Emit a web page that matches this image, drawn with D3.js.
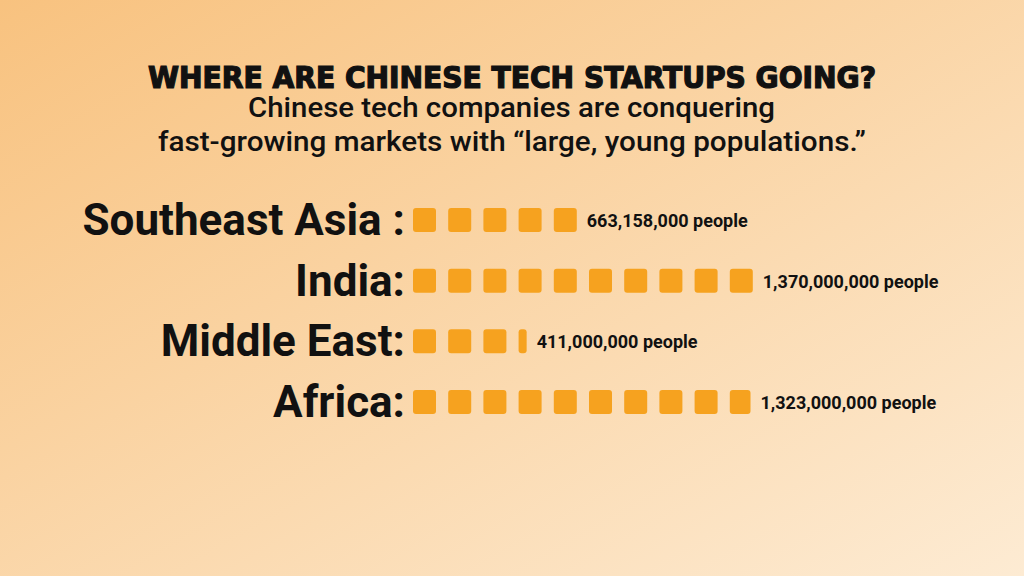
<!DOCTYPE html>
<html><head><meta charset="utf-8">
<script src="https://cdn.jsdelivr.net/npm/d3@7"></script>
<style>body{margin:0}</style>
</head><body>
<script>
var w = 1024, h = 576;
var regions = ["Southeast Asia :", "India:", "Middle East:", "Africa:"];
var people = ["663,158,000", "1,370,000,000", "411,000,000", "1,323,000,000"];
var squares = [5, 10, 3.35, 9.9];   // pictogram units as drawn

var svg = d3.select("body").append("svg").attr("width", w).attr("height", h);
var defs = svg.append("defs");
var g = defs.append("linearGradient").attr("id", "bg")
	.attr("x1", "0%").attr("y1", "0%").attr("x2", "100%").attr("y2", "100%");
g.append("stop").attr("offset", "0%").attr("stop-color", "#f8c27f");
g.append("stop").attr("offset", "100%").attr("stop-color", "#fdebd3");
svg.append("rect").attr("width", w).attr("height", h).attr("fill", "url(#bg)");

svg.append("text").text("WHERE ARE CHINESE TECH STARTUPS GOING?")
	.attr("x", 512).attr("y", 88).attr("text-anchor", "middle")
	.attr("font-family", "DejaVu Sans Condensed, DejaVu Sans").attr("font-weight", "bold")
	.attr("font-size", 30).attr("fill", "#111").attr("stroke", "#111").attr("stroke-width", 1.2)
	.attr("textLength", 728).attr("lengthAdjust", "spacingAndGlyphs");
svg.append("text").text("Chinese tech companies are conquering")
	.attr("x", 248).attr("y", 117)
	.attr("font-family", "Roboto").attr("font-weight", 500)
	.attr("font-size", 27).attr("fill", "#111")
	.attr("textLength", 527).attr("lengthAdjust", "spacingAndGlyphs");
svg.append("text").text("fast-growing markets with \u201Clarge, young populations.\u201D")
	.attr("x", 158).attr("y", 151)
	.attr("font-family", "Roboto").attr("font-weight", 500)
	.attr("font-size", 27).attr("fill", "#111")
	.attr("textLength", 708).attr("lengthAdjust", "spacingAndGlyphs");

var x = d3.scaleLinear().domain([0, 10]).range([413, 765]);
var y = d3.scalePoint().domain(regions).range([220, 402]);
var sq = 23;

regions.forEach(function(r, i){
	var row = svg.append("g");
	row.append("text").text(r)
		.attr("x", 405).attr("y", y(r) + 15).attr("text-anchor", "end")
		.attr("font-family", "Roboto").attr("font-weight", "bold")
		.attr("font-size", 44).attr("fill", "#111");
	var cells = d3.range(Math.ceil(squares[i])).map(function(k){
		return Math.min(1, squares[i] - k);
	});
	row.selectAll("rect").data(cells).enter().append("rect")
		.attr("x", function(d, k){ return x(k); })
		.attr("y", y(r) - 12)
		.attr("width", function(d){ return d * sq; })
		.attr("height", 24)
		.attr("rx", 3).attr("fill", "#f6a21f");
	var end = x(Math.ceil(squares[i]) - 1) + cells[cells.length - 1] * sq;
	row.append("text").text(people[i] + " people")
		.attr("x", end + 10).attr("y", y(r) + 7)
		.attr("font-family", "Roboto").attr("font-weight", "bold")
		.attr("font-size", 18).attr("fill", "#111");
});
</script>
</body></html>
